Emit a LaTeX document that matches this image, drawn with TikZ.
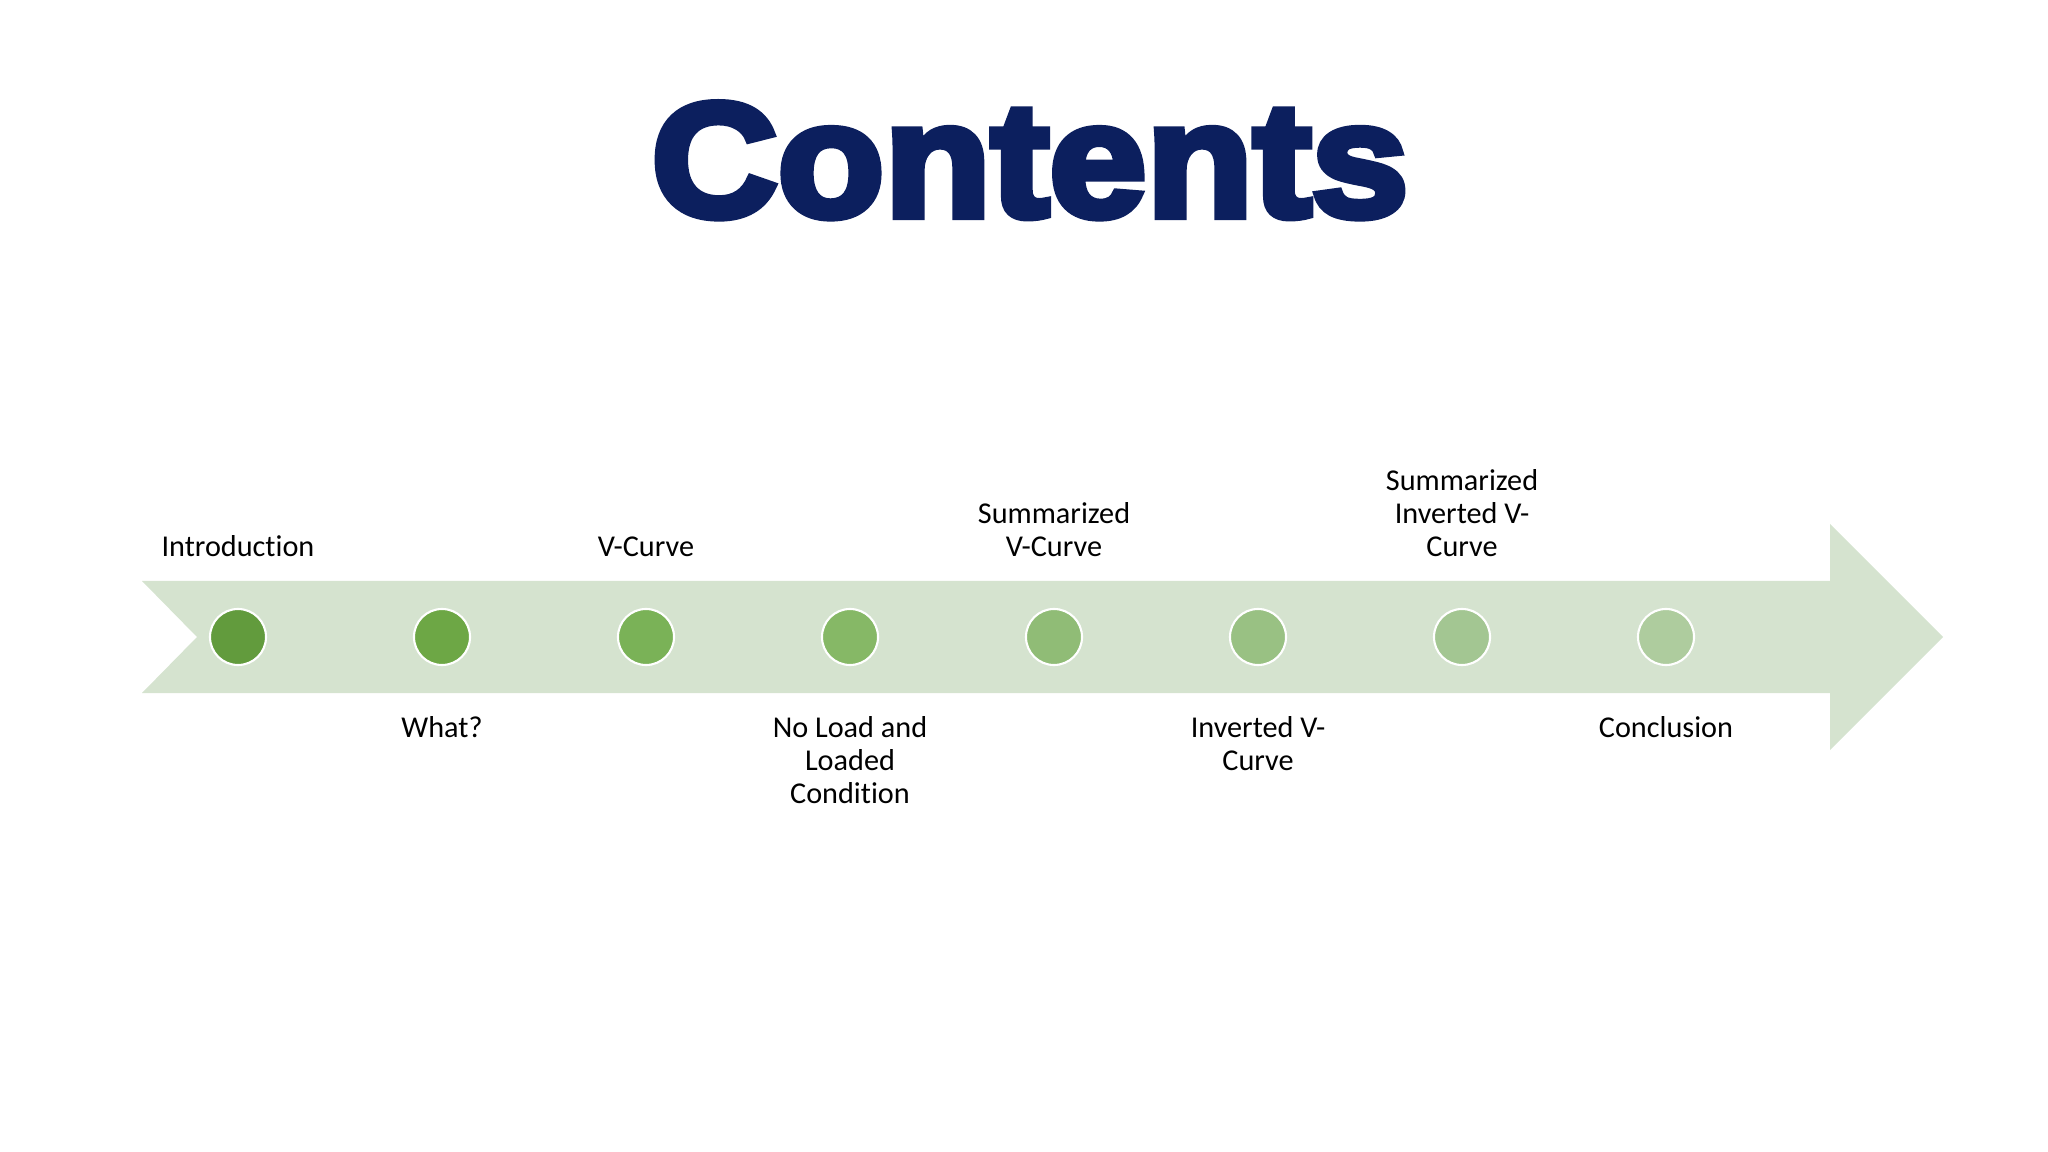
\documentclass[tikz,border=0pt]{standalone}
\usepackage{fontspec}
\setmainfont[Ligatures=NoCommon]{Carlito}
\newfontfamily\titlefont[FakeBold=5, FakeStretch=1.08]{Liberation Sans Bold}
\usetikzlibrary{positioning}

% --- colours of the slide ---
\definecolor{titleblue}{HTML}{0C1F5E}
\definecolor{bandgreen}{HTML}{D5E3CF}
\definecolor{dotA}{HTML}{629B3D}
\definecolor{dotB}{HTML}{6DA745}
\definecolor{dotC}{HTML}{7AB257}
\definecolor{dotD}{HTML}{86B866}
\definecolor{dotE}{HTML}{90BC76}
\definecolor{dotF}{HTML}{99C183}
\definecolor{dotG}{HTML}{A3C692}
\definecolor{dotH}{HTML}{AECC9E}

\begin{document}
\begin{tikzpicture}[
    x=0.01cm, y=-0.01cm,
    % --- own styles ---
    band/.style = {fill=#1},                                  % the big arrow
    dot/.style = {circle, fill=#1, draw=white, line width=0.6pt,
                  minimum size=0.56cm, inner sep=0pt},       % milestones
    toplabel/.style = {above=0.5cm of #1, align=center, inner sep=0pt,
                       font=\fontsize{8.6}{9.4}\selectfont}, % label over a dot
    botlabel/.style = {below=0.5cm of #1, align=center, inner sep=0pt,
                       font=\fontsize{8.6}{9.4}\selectfont}, % label under a dot
    heading/.style = {color=titleblue, inner sep=0pt, anchor=base,
                      font=\titlefont\fontsize{46}{46}\selectfont}
    ]

    % --- parameters ---
    \def\xstart{238}   % first dot
    \def\gap{204}      % distance of the dots
    \def\ymid{637}     % middle of the arrow

    % --- page ---
    \useasboundingbox (0,0) rectangle (2048,1152);

    % --- title ---
    \node[heading] (title) at (1030,216) {Contents};

    % --- arrow ---
    \fill[band={bandgreen}] (142,581) -- (1830,581) -- (1830,524) -- (1943,\ymid)
        -- (1830,750) -- (1830,693) -- (142,693) -- (197,\ymid) -- cycle;

    % --- dots ---
    \foreach \i/\col in {1/dotA, 2/dotB, 3/dotC, 4/dotD, 5/dotE, 6/dotF, 7/dotG, 8/dotH} {
        \node[dot={\col}] (dot\i) at ({\xstart+\gap*(\i-1)},\ymid) {};
    }

    % --- labels ---
    \foreach \i/\where/\txt in {1/toplabel/{Introduction},
                                2/botlabel/{What?},
                                3/toplabel/{V-Curve},
                                4/botlabel/{No Load and\\Loaded\\Condition},
                                5/toplabel/{Summarized\\V-Curve},
                                6/botlabel/{Inverted V-\\Curve},
                                7/toplabel/{Summarized\\Inverted V-\\Curve},
                                8/botlabel/{Conclusion}} {
        \node[\where={dot\i}] (lbl\i) {\txt};
    }
\end{tikzpicture}
\end{document}
